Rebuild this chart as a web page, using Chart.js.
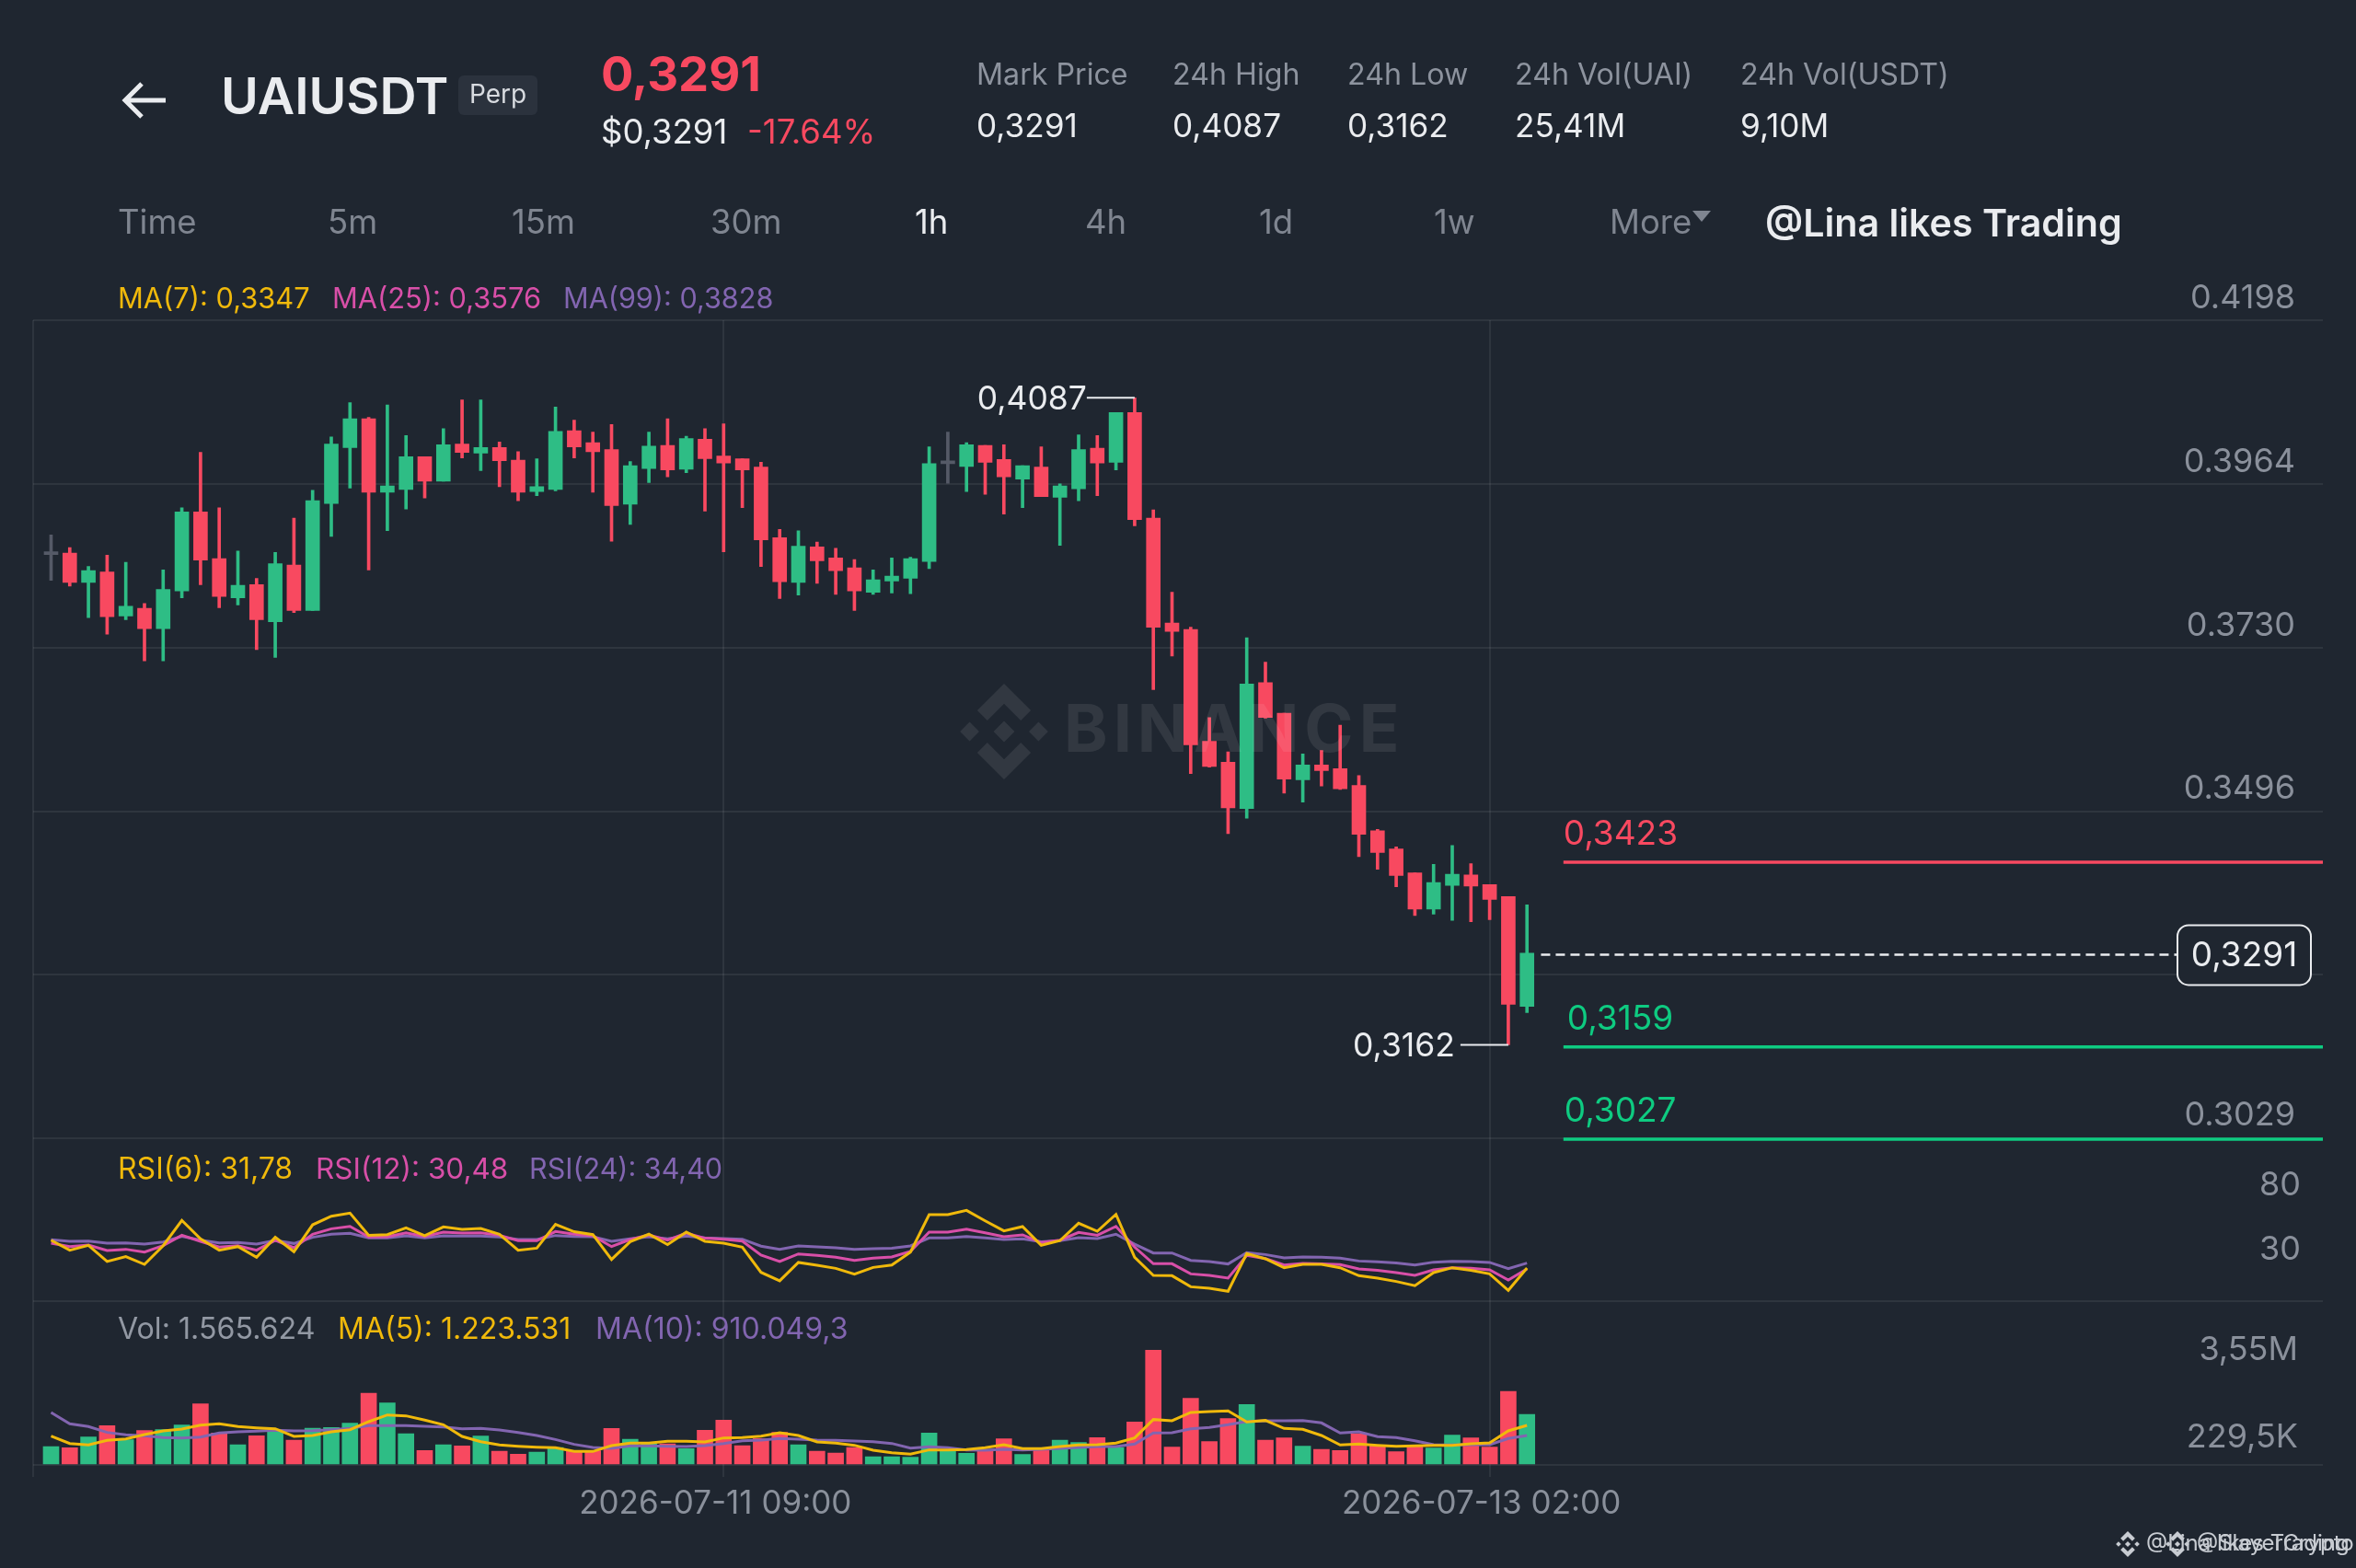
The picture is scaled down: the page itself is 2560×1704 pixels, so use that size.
<!DOCTYPE html>
<html>
<head>
<meta charset="utf-8">
<title>UAIUSDT</title>
<script src="https://cdn.jsdelivr.net/npm/chart.js@4"></script>
<style>
    html, body { margin: 0; padding: 0; background: #1f2630; }
    #page { position: relative; width: 2560px; height: 1704px; overflow: hidden; font-family: Inter, sans-serif; }
    #chart { position: absolute; left: 0; top: 0; }
    .t { position: absolute; white-space: nowrap; line-height: 1; transform: translateY(-50%); }
    #perp { position: absolute; left: 498px; top: 82px; width: 86px; height: 43px; background: #2b323d; border-radius: 6px; }
    #more { position: absolute; left: 1839px; top: 229px; width: 0; height: 0; border-left: 10px solid transparent; border-right: 10px solid transparent; border-top: 12px solid #7f8590; }
</style>
</head>
<body>
<div id="page">
    <canvas id="chart" width="2560" height="1704"></canvas>
    <div id="perp"></div>
    <div id="more"></div>
    <svg style="position:absolute;left:130px;top:85px" width="56" height="48" viewBox="0 0 56 48">
        <path d="M50 24H8M24 6L6 24L24 42" fill="none" stroke="#eaecef" stroke-width="5"/>
    </svg>
</div>
<script>
// candles, one per hour
var opens = [.3863,.3865,.3823,.3838,.3775,.3786,.3757,.3811,.3924,.3857,
    .3801,.3820,.3767,.3848,.3783,.3936,.4016,.4057,.3952,.3956,
    .4003,.3968,.4021,.4008,.4016,.3998,.3953,.3956,.4040,.4023,
    .4013,.3935,.3986,.4019,.3985,.4028,.4004,.4000,.3988,.3887,
    .3823,.3874,.3858,.3844,.3809,.3825,.3829,.3853,.3993,.3989,
    .4019,.3999,.3971,.3988,.3945,.3957,.4015,.3995,.4066,.3915,
    .3765,.3756,.3596,.3566,.3500,.3680,.3636,.3541,.3562,.3557,
    .3533,.3468,.3442,.3408,.3356,.3390,.3405,.3391,.3374,.3217];
var closes = [.3863,.3823,.3840,.3774,.3789,.3757,.3813,.3924,.3855,.3803,
    .3819,.3770,.3850,.3783,.3940,.4021,.4057,.3952,.3961,.4003,
    .3968,.4020,.4009,.4016,.3997,.3952,.3960,.4039,.4017,.4010,
    .3933,.3990,.4018,.3984,.4029,.4000,.3994,.3984,.3884,.3824,
    .3875,.3854,.3840,.3811,.3827,.3832,.3857,.3993,.3993,.4020,
    .3995,.3974,.3990,.3946,.3961,.4013,.3994,.4066,.3913,.3759,
    .3753,.3591,.3560,.3501,.3678,.3630,.3542,.3562,.3554,.3528,
    .3463,.3437,.3404,.3356,.3394,.3406,.3389,.3370,.3220,.3293];
var highs = [.3891,.3873,.3846,.3862,.3852,.3793,.3841,.3930,.4009,.3930,
    .3868,.3829,.3866,.3915,.3955,.4031,.4080,.4059,.4077,.4033,
    .4003,.4043,.4084,.4084,.4024,.4010,.4000,.4074,.4055,.4038,
    .4049,.3996,.4038,.4057,.4032,.4043,.4050,.4000,.3995,.3899,
    .3897,.3881,.3872,.3856,.3841,.3858,.3859,.4017,.4038,.4023,
    .4019,.4020,.3990,.4017,.3964,.4034,.4033,.4066,.4087,.3927,
    .3809,.3759,.3630,.3581,.3744,.3709,.3636,.3578,.3583,.3619,
    .3547,.3470,.3445,.3408,.3420,.3447,.3421,.3391,.3374,.3362];
var lows = [.3826,.3818,.3773,.3749,.3770,.3711,.3711,.3801,.3820,.3787,
    .3791,.3727,.3716,.3780,.3783,.3889,.3958,.3841,.3897,.3928,
    .3944,.3968,.4001,.3983,.3960,.3940,.3947,.3954,.4001,.3952,
    .3882,.3906,.3966,.3974,.3980,.3925,.3867,.3930,.3846,.3800,
    .3805,.3822,.3806,.3783,.3806,.3808,.3807,.3843,.3965,.3953,
    .3949,.3921,.3930,.3946,.3876,.3940,.3947,.3984,.3904,.3670,
    .3718,.3550,.3559,.3464,.3486,.3629,.3522,.3509,.3532,.3527,
    .3431,.3413,.3388,.3347,.3349,.3340,.3338,.3341,.3162,.3208];

var rsi6 = [54.7,46.9,50.7,38.1,41.9,35.9,50.4,70.0,55.7,46.9,
    49.7,41.4,56.9,45.7,66.6,73.3,75.7,58.5,59.0,64.3,
    58.1,65.0,63.1,63.8,59.3,46.9,48.5,66.9,61.2,59.0,
    39.7,53.5,59.3,51.2,60.9,53.8,52.4,49.3,29.7,23.1,
    37.4,35.2,32.8,28.3,33.5,35.4,45.4,74.5,74.5,77.8,
    69.7,61.9,65.2,50.7,54.3,67.8,61.6,74.7,41.4,27.3,
    27.1,18.5,17.3,15.0,44.3,40.2,33.3,35.9,35.9,33.3,
    27.1,25.2,22.6,19.3,29.5,33.3,31.2,28.5,15.7,33.0];
var rsi12 = [52.4,49.7,50.9,46.6,47.6,45.4,50.4,58.5,53.8,49.3,
    50.4,46.9,54.5,48.8,59.3,63.5,65.4,57.1,57.3,60.4,
    57.6,60.9,60.2,60.4,58.5,54.3,54.3,61.4,59.3,58.1,
    49.7,55.2,58.8,54.7,60.2,56.2,55.4,54.0,43.1,38.1,
    44.0,42.8,41.4,39.0,40.7,41.6,45.9,60.9,60.9,63.3,
    60.4,57.3,58.8,52.8,54.7,60.7,58.5,65.4,49.3,36.4,
    36.4,28.5,27.3,25.2,42.8,40.4,35.4,36.6,36.2,35.7,
    32.3,31.2,29.5,27.3,31.6,33.3,32.8,31.6,23.8,32.3];
var rsi24 = [55.0,53.8,54.0,52.4,52.6,51.6,53.3,57.6,54.7,52.6,
    52.8,51.6,54.5,52.1,56.9,59.3,60.0,56.4,56.4,58.1,
    56.4,58.1,57.8,57.8,57.1,55.2,55.2,58.3,57.6,57.3,
    53.8,55.7,57.3,55.7,57.8,56.4,55.9,55.4,50.0,47.6,
    50.2,49.5,48.8,47.6,48.1,48.5,50.2,56.4,56.4,57.6,
    56.4,55.2,55.7,53.5,54.3,56.6,55.9,59.3,51.6,44.7,
    44.7,39.0,38.1,36.2,45.0,43.5,40.9,41.6,41.4,40.7,
    38.5,37.8,36.9,35.4,37.6,38.3,38.1,37.4,32.6,36.9];

// volume, in thousands
var volumes = [569,531,863,1214,778,1063,1091,1233,1888,987,
    626,901,1082,768,1138,1157,1290,2220,1916,968,
    446,626,588,892,427,332,398,541,436,436,
    1129,797,655,655,503,1072,1385,598,816,1006,
    626,427,370,541,256,256,237,987,436,361,
    436,806,323,455,768,693,844,541,1328,3550,
    550,2059,721,1433,1869,768,835,579,484,446,
    958,607,408,560,522,920,835,550,2277,1566];
var volMa5 = [892,664,617,759,806,939,1053,1110,1233,1271,
    1186,1148,1119,882,911,1025,1091,1338,1546,1518,
    1385,1243,882,721,617,579,550,531,417,417,
    598,674,674,730,730,712,835,844,892,996,
    911,712,674,607,455,379,332,465,465,474,
    531,626,503,503,569,617,626,674,835,1404,
    1366,1622,1651,1670,1328,1376,1129,1100,911,617,
    645,607,579,588,607,607,655,683,1053,1224];
var volMa10 = [1622,1271,1186,1006,930,901,844,835,863,987,
    1025,1044,1072,1053,1063,1091,1129,1214,1214,1214,
    1195,1176,1119,1129,1082,1006,911,787,636,541,
    512,588,588,579,569,598,664,749,768,816,
    797,768,759,740,721,664,522,560,531,465,
    455,484,465,484,512,541,569,569,645,987,
    996,1119,1157,1243,1347,1366,1366,1376,1300,987,
    1025,873,844,749,626,617,626,626,816,911];

var priceTicks = [0.4198, 0.3964, 0.3730, 0.3496, 0.3262, 0.3029];
var hiddenPriceTick = 0.3262;
var rsiTicks = [80, 30];
var volTicks = [3550, 229.5];
var timeTickIdx = [36, 77];
var timeTickLabels = ["2026-07-11 09:00", "2026-07-13 02:00"];

var levelSell = 0.3423;
var levelBuy = 0.3159;
var levelBuy2 = 0.3027;
var lastPrice = 0.3291;
var highIdx = 58;
var lowIdx = 78;

var RED = "#f84960";
var GREEN = "#2ebd85";
var DOJI = "#555a67";
var YELLOW = "#f0b90b";
var PINK = "#d84fa8";
var PURPLE = "#8265b0";
var LEVEL_GREEN = "#0ecb81";
var GRID = "rgba(255,255,255,0.07)";
var FONT = "Inter, sans-serif";

var xMin = -0.96, xMax = 121.6;
var rsiMin = 7.14, rsiMax = 134.07;
var volMax = 5057;

function candleColor(i) {
    if (opens[i] === closes[i]) return DOJI;
    return closes[i] > opens[i] ? GREEN : RED;
}

function volColor(i) {
    return closes[i] >= opens[i] ? GREEN : RED;
}

function addText(x, y, text, size, color, weight) {
    var el = document.createElement("div");
    el.className = "t";
    el.textContent = text;
    el.style.left = x + "px";
    el.style.top = y + "px";
    el.style.fontSize = size + "px";
    el.style.color = color;
    if (weight) el.style.fontWeight = weight;
    document.getElementById("page").appendChild(el);
}

// header
addText(240, 104, "UAIUSDT", 55.5, "#eaecef", 600);
addText(510, 102, "Perp", 28, "#d8dbe0");
addText(653, 80, "0,3291", 52.5, RED, 700);
addText(653, 143, "$0,3291", 36.5, "#eaecef");
addText(812, 143, "-17.64%", 36.5, RED);

var statNames = ["Mark Price", "24h High", "24h Low", "24h Vol(UAI)", "24h Vol(USDT)"];
var statValues = ["0,3291", "0,4087", "0,3162", "25,41M", "9,10M"];
var statX = [1061, 1274, 1464, 1646, 1891];
statNames.forEach(function (name, i) {
    addText(statX[i], 81, name, 32.2, "#8d939e");
    addText(statX[i], 137, statValues[i], 35.2, "#eaecef");
});

var tabNames = ["Time", "5m", "15m", "30m", "1h", "4h", "1d", "1w", "More"];
var tabX = [128, 356, 556, 772, 994, 1179, 1368, 1558, 1749];
tabNames.forEach(function (name, i) {
    addText(tabX[i], 241, name, 36.5, name === "1h" ? "#eaecef" : "#7f8590");
});
addText(1918, 243, "@Lina likes Trading", 41.2, "#eaecef", 600);

// indicator legends
addText(128, 324, "MA(7): 0,3347", 30.8, YELLOW);
addText(361, 324, "MA(25): 0,3576", 30.8, PINK);
addText(612, 324, "MA(99): 0,3828", 30.6, PURPLE);
addText(128, 1270, "RSI(6): 31,78", 32, YELLOW);
addText(343, 1270, "RSI(12): 30,48", 31.5, PINK);
addText(575, 1270, "RSI(24): 34,40", 30.5, PURPLE);
addText(128, 1444, "Vol: 1.565.624", 32.2, "#9298a3");
addText(367, 1444, "MA(5): 1.223.531", 32, YELLOW);
addText(647, 1444, "MA(10): 910.049,3", 32, PURPLE);

function points(values) {
    return values.map(function (v, i) { return { x: i, y: v }; });
}

function drawLogo(ctx, cx, cy, r, color) {
    var polys = [
        [[0, -.22], [.22, 0], [0, .22], [-.22, 0]],
        [[-.72, -.2], [-.52, 0], [-.72, .2], [-.92, 0]],
        [[.72, -.2], [.92, 0], [.72, .2], [.52, 0]],
        [[0, -1], [.56, -.44], [.35, -.23], [0, -.58], [-.35, -.23], [-.56, -.44]],
        [[0, 1], [.56, .44], [.35, .23], [0, .58], [-.35, .23], [-.56, .44]]
    ];
    ctx.fillStyle = color;
    polys.forEach(function (p) {
        ctx.beginPath();
        p.forEach(function (pt, i) {
            if (i === 0) ctx.moveTo(cx + pt[0] * r, cy + pt[1] * r);
            else ctx.lineTo(cx + pt[0] * r, cy + pt[1] * r);
        });
        ctx.closePath();
        ctx.fill();
    });
}

function hLine(ctx, x1, x2, y, color, width) {
    ctx.strokeStyle = color;
    ctx.lineWidth = width;
    ctx.beginPath();
    ctx.moveTo(x1, y);
    ctx.lineTo(x2, y);
    ctx.stroke();
}

function label(ctx, text, x, y, color, size, align) {
    ctx.font = (size || 37) + "px " + FONT;
    ctx.fillStyle = color;
    ctx.textAlign = align || "left";
    ctx.textBaseline = "middle";
    ctx.fillText(text, x, y);
}

var overlays = {
    id: "overlays",
    afterDatasetsDraw: function (chart) {
        var ctx = chart.ctx, x = chart.scales.x, y = chart.scales.y;
        var right = chart.chartArea.right;
        ctx.save();

        // watermark
        drawLogo(ctx, 1091, 795, 52, "rgba(255,255,255,0.085)");
        ctx.font = "700 72px " + FONT;
        ctx.fillStyle = "rgba(255,255,255,0.085)";
        ctx.textAlign = "left";
        ctx.textBaseline = "middle";
        ctx.letterSpacing = "6px";
        ctx.fillText("BINANCE", 1156, 795);
        ctx.letterSpacing = "0px";

        // price levels right of the candles
        var levelX = x.getPixelForValue(80.95);
        hLine(ctx, levelX, right, y.getPixelForValue(levelSell), RED, 3.5);
        hLine(ctx, levelX, right, y.getPixelForValue(levelBuy), LEVEL_GREEN, 3.5);
        hLine(ctx, levelX, right, y.getPixelForValue(levelBuy2), LEVEL_GREEN, 3.5);
        label(ctx, "0,3423", levelX, y.getPixelForValue(levelSell) - 30, RED);
        label(ctx, "0,3159", levelX + 4, y.getPixelForValue(levelBuy) - 30, LEVEL_GREEN);
        label(ctx, "0,3027", levelX + 1, y.getPixelForValue(levelBuy2) - 30, LEVEL_GREEN);

        // last price
        var lastY = y.getPixelForValue(lastPrice);
        ctx.setLineDash([10, 6]);
        hLine(ctx, x.getPixelForValue(79.75), 2366, lastY, "#eaecef", 2.5);
        ctx.setLineDash([]);
        ctx.beginPath();
        ctx.roundRect(2366, lastY - 32, 145, 65, 12);
        ctx.fillStyle = "#1f2630";
        ctx.fill();
        ctx.strokeStyle = "#eaecef";
        ctx.lineWidth = 2;
        ctx.stroke();
        label(ctx, "0,3291", 2438.5, lastY + 1, "#eaecef", 37, "center");

        // high and low markers
        var hiX = x.getPixelForValue(highIdx), hiY = y.getPixelForValue(highs[highIdx]);
        hLine(ctx, hiX - 52, hiX, hiY, "#eaecef", 2);
        label(ctx, "0,4087", hiX - 52, hiY + 2, "#eaecef", 35.5, "right");
        var loX = x.getPixelForValue(lowIdx), loY = y.getPixelForValue(lows[lowIdx]);
        hLine(ctx, loX - 52, loX, loY, "#eaecef", 2);
        label(ctx, "0,3162", loX - 58, loY + 2, "#eaecef", 35.5, "right");

        // footer marks, two stacked on top of each other
        drawLogo(ctx, 2312, 1678, 14, "#c8ccd2");
        label(ctx, "@Lina likes Trading", 2332, 1678, "#c8ccd2", 24, "left");
        drawLogo(ctx, 2366, 1678, 14, "#c8ccd2");
        label(ctx, "@SlayerCrypto", 2387, 1678, "#c8ccd2", 24, "left");

        ctx.restore();
    }
};

function noWidth(s) { s.width = 0; }

new Chart(document.getElementById("chart"), {
    type: "bar",
    data: {
        datasets: [
            {
                yAxisID: "y", order: 3, barThickness: 3,
                data: lows.map(function (l, i) { return { x: i, y: [l, highs[i]] }; }),
                backgroundColor: lows.map(function (l, i) { return candleColor(i); })
            },
            {
                yAxisID: "y", order: 2, barThickness: 15, minBarLength: 3,
                data: opens.map(function (o, i) { return { x: i, y: [o, closes[i]] }; }),
                backgroundColor: opens.map(function (o, i) { return candleColor(i); })
            },
            { type: "line", yAxisID: "rsi", order: 1, data: points(rsi24), borderColor: PURPLE, borderWidth: 3, pointRadius: 0 },
            { type: "line", yAxisID: "rsi", order: 0, data: points(rsi12), borderColor: PINK, borderWidth: 3, pointRadius: 0 },
            { type: "line", yAxisID: "rsi", order: -1, data: points(rsi6), borderColor: YELLOW, borderWidth: 3, pointRadius: 0 },
            {
                yAxisID: "vol", order: 2, barThickness: 17,
                data: points(volumes),
                backgroundColor: volumes.map(function (v, i) { return volColor(i); })
            },
            { type: "line", yAxisID: "vol", order: 1, data: points(volMa10), borderColor: PURPLE, borderWidth: 3, pointRadius: 0 },
            { type: "line", yAxisID: "vol", order: 0, data: points(volMa5), borderColor: YELLOW, borderWidth: 3, pointRadius: 0 }
        ]
    },
    plugins: [overlays],
    options: {
        responsive: false,
        animation: false,
        devicePixelRatio: 1,
        events: [],
        layout: { padding: { left: 36, right: 36, top: 348, bottom: 0 } },
        plugins: { legend: { display: false }, title: { display: false }, tooltip: { enabled: false } },
        datasets: { bar: { grouped: false, borderWidth: 0 } },
        scales: {
            x: {
                type: "linear",
                min: xMin, max: xMax,
                offset: false,
                border: { display: false },
                grid: { offset: false, color: GRID, lineWidth: 2, drawTicks: true, tickLength: 13, tickColor: GRID },
                afterBuildTicks: function (s) {
                    s.ticks = [{ value: xMin }].concat(timeTickIdx.map(function (v) { return { value: v }; }));
                },
                afterFit: function (s) { s.height = 112; },
                ticks: {
                    autoSkip: false, maxRotation: 0, padding: 8, labelOffset: -9,
                    color: "#8a909b", font: { family: FONT, size: 35 },
                    callback: function (v) {
                        var i = timeTickIdx.indexOf(v);
                        return i < 0 ? "" : timeTickLabels[i];
                    }
                }
            },
            y: {
                type: "linear", position: "right", stack: "panes", stackWeight: 5, weight: 1,
                min: priceTicks[5], max: priceTicks[0], beginAtZero: false,
                border: { display: false },
                grid: { color: GRID, lineWidth: 2, drawTicks: false },
                afterBuildTicks: function (s) {
                    s.ticks = priceTicks.map(function (v) { return { value: v }; });
                },
                afterFit: noWidth,
                ticks: {
                    mirror: true, padding: -30, labelOffset: -24, autoSkip: false,
                    color: "#8a909b", font: { family: FONT, size: 36 },
                    callback: function (v) { return v === hiddenPriceTick ? "" : v.toFixed(4); }
                }
            },
            rsi: {
                type: "linear", position: "right", stack: "panes", stackWeight: 1, weight: 2,
                min: rsiMin, max: rsiMax,
                border: { display: false },
                grid: {
                    lineWidth: 2, drawTicks: false,
                    color: function (c) { return c.tick.value === rsiMin ? GRID : "transparent"; }
                },
                afterBuildTicks: function (s) {
                    s.ticks = [{ value: rsiMin }].concat(rsiTicks.map(function (v) { return { value: v }; }));
                },
                afterFit: noWidth,
                ticks: {
                    mirror: true, padding: -24, labelOffset: -24, autoSkip: false,
                    color: "#8a909b", font: { family: FONT, size: 36 },
                    callback: function (v) { return v === rsiMin ? "" : String(v); }
                }
            },
            vol: {
                type: "linear", position: "right", stack: "panes", stackWeight: 1, weight: 3,
                min: 0, max: volMax,
                border: { display: false },
                grid: {
                    lineWidth: 2, drawTicks: false,
                    color: function (c) { return c.tick.value === 0 ? GRID : "transparent"; }
                },
                afterBuildTicks: function (s) {
                    s.ticks = [{ value: 0 }].concat(volTicks.map(function (v) { return { value: v }; }));
                },
                afterFit: noWidth,
                ticks: {
                    mirror: true, padding: -27, autoSkip: false,
                    color: "#8a909b", font: { family: FONT, size: 36 },
                    callback: function (v) {
                        if (v === 0) return "";
                        return v === 229.5 ? ["229,5K", ""] : "3,55M";
                    }
                }
            }
        }
    }
});
</script>
</body>
</html>
